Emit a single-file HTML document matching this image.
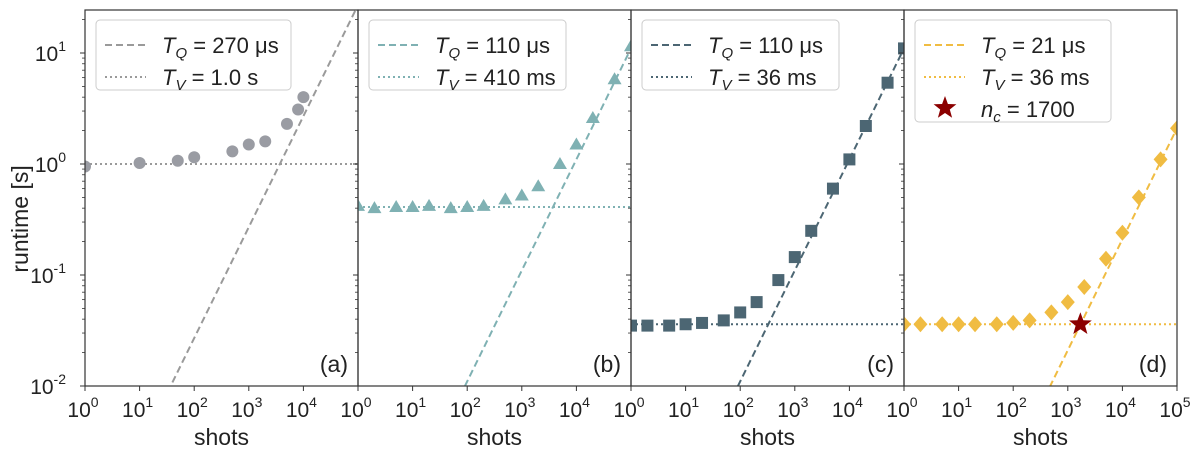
<!DOCTYPE html>
<html><head><meta charset="utf-8">
<style>
html,body{margin:0;background:#fff;overflow:hidden;width:1200px;height:460px;}
svg{display:block;font-family:"Liberation Sans","DejaVu Sans",sans-serif;}
</style></head>
<body>
<svg id="chart" width="1200" height="460" viewBox="0 0 1200 460" xmlns="http://www.w3.org/2000/svg"></svg>
<script>
// ---- data ----
const xTicks = [0,1,2,3,4,5];
const yTicks = [-2,-1,0,1];
const panelLabels = ["(a)","(b)","(c)","(d)"];
const colors = ["#9a9ca3","#7fb1b3","#4c6673","#f0bc42"];
const lineColors = ["#9a9a9a","#7fb1b3","#4c6673","#f0bc42"];
const markers = ["circle","triangle","square","diamond"];
const tqValues = [270e-6,110e-6,110e-6,21e-6];
const tvValues = [1.0,0.41,0.036,0.036];
const tqLabels = ["270 μs","110 μs","110 μs","21 μs"];
const tvLabels = ["1.0 s","410 ms","36 ms","36 ms"];
const shotsA = [1,10,50,100,500,1000,2000,5000,8000,10000];
const runtimeA = [0.95,1.02,1.07,1.15,1.3,1.5,1.6,2.3,3.1,4.0];
const shotsB = [1,2,5,10,20,50,100,200,500,1000,2000,5000,10000,20000,50000,100000];
const runtimeB = [0.42,0.40,0.41,0.41,0.42,0.40,0.41,0.42,0.48,0.52,0.63,1.0,1.5,2.6,5.8,11.5];
const shotsC = [1,2,5,10,20,50,100,200,500,1000,2000,5000,10000,20000,50000,100000];
const runtimeC = [0.035,0.035,0.035,0.036,0.037,0.039,0.046,0.057,0.09,0.145,0.25,0.6,1.1,2.2,5.4,11];
const shotsD = [1,2,5,10,20,50,100,200,500,1000,2000,5000,10000,20000,50000,100000];
const runtimeD = [0.036,0.036,0.036,0.036,0.036,0.036,0.037,0.039,0.046,0.057,0.078,0.14,0.24,0.5,1.1,2.1];
const crossover = [1700,0.036];
const crossoverLabel = "1700";

const shotsAll=[shotsA,shotsB,shotsC,shotsD];
const runAll=[runtimeA,runtimeB,runtimeC,runtimeD];

// ---- layout ----
const NS="http://www.w3.org/2000/svg";
const svg=document.getElementById('chart');
const X0=85, PW=273, TOP=10, BOT=386, DEC=111;
function px(i,v){return X0+i*PW+Math.log10(v)/5*PW;}
function py(v){return BOT-(Math.log10(v)+2)*DEC;}
function mk(tag,attrs,parent){const e=document.createElementNS(NS,tag);for(const k in attrs)e.setAttribute(k,attrs[k]);(parent||svg).appendChild(e);return e;}

const yTop=Math.pow(10,(BOT-TOP)/DEC-2);

for(let i=0;i<4;i++){
  const g=mk('g',{});
  
  
  const clipId='clip'+i;
  const cp=mk('clipPath',{id:clipId},g);
  mk('rect',{x:X0+i*PW,y:TOP,width:PW,height:BOT-TOP},cp);
  const pl=mk('g',{'clip-path':'url(#'+clipId+')'},g);
  const dl=mk('line',{x1:X0+i*PW,x2:X0+(i+1)*PW,y1:py(tvValues[i]),y2:py(tvValues[i]),stroke:lineColors[i],'stroke-width':2,'stroke-dasharray':'2,3'},pl);
  
  
  const n1=1, n2=1e5;
  const ql=mk('line',{x1:px(i,n1),y1:py(tqValues[i]*n1),x2:px(i,n2),y2:py(tqValues[i]*n2),stroke:lineColors[i],'stroke-width':2,'stroke-dasharray':'7,4'},pl);
  
  
  const xs=shotsAll[i], ys=runAll[i];
  for(let j=0;j<xs.length;j++){
    const cx=px(i,xs[j]), cy=py(ys[j]);let m;
    if(markers[i]==='circle') m=mk('circle',{cx:cx,cy:cy,r:6,fill:colors[i]},pl);
    else if(markers[i]==='triangle') m=mk('polygon',{points:`${cx},${cy-7} ${cx-7},${cy+5} ${cx+7},${cy+5}`,fill:colors[i]},pl);
    else if(markers[i]==='square') m=mk('rect',{x:cx-6,y:cy-6,width:12,height:12,fill:colors[i]},pl);
    else m=mk('polygon',{points:`${cx},${cy-8} ${cx+7},${cy} ${cx},${cy+8} ${cx-7},${cy}`,fill:colors[i]},pl);
    
    
  }
  if(i===3){
    const sx=px(3,crossover[0]), sy=py(crossover[1]);
    let pts=[];for(let k=0;k<10;k++){const r=k%2?5:12;const a=-Math.PI/2+k*Math.PI/5;pts.push((sx+r*Math.cos(a)).toFixed(1)+','+(sy+r*Math.sin(a)).toFixed(1));}
    const st=mk('polygon',{points:pts.join(' '),fill:'#8b0000'},pl);
    
    
  }
  const fr=mk('rect',{x:X0+i*PW,y:TOP,width:PW,height:BOT-TOP,fill:'none',stroke:'#333','stroke-width':1.2},g);
  
  
  for(let d=-2;d<=1;d++){
    const y=py(Math.pow(10,d));
    mk('line',{x1:X0+i*PW-5,x2:X0+i*PW,y1:y,y2:y,stroke:'#333','stroke-width':1},g);
    for(let k=2;k<=9;k++){const v=k*Math.pow(10,d);if(v>yTop)break;const yy=py(v);
      mk('line',{x1:X0+i*PW-3,x2:X0+i*PW,y1:yy,y2:yy,stroke:'#333','stroke-width':0.8},g);}
  }
  xTicks.forEach(t=>{
    const x=X0+i*PW+t/5*PW;
    mk('line',{x1:x,x2:x,y1:BOT,y2:BOT+5,stroke:'#333','stroke-width':1},g);
    if(i<3 && t===5) return;
    const tx=mk('text',{x:x-2,y:BOT+31,'font-size':21,fill:'#222','text-anchor':'middle'},g);
    
    
    tx.innerHTML='10<tspan dy="-10" font-size="14">'+t+'</tspan>';
  });
  const xl=mk('text',{x:X0+i*PW+PW/2,y:445,'font-size':23,fill:'#222','text-anchor':'middle'},g);
  
  
  xl.textContent='shots';
  const lab=mk('text',{x:X0+(i+1)*PW-10,y:BOT-14,'font-size':23,fill:'#222','text-anchor':'end'},g);
  
  
  lab.textContent=panelLabels[i];
  const lx=X0+i*PW+11, lw=(i===3?196:(i===0?195:197)), lh=(i===3?102:70);
  const lg=mk('g',{},g);
  
  
  mk('rect',{x:lx,y:20,width:lw,height:lh,rx:4,fill:'#fff',stroke:'#ccc','stroke-width':1},lg);
  mk('line',{x1:lx+9,x2:lx+50,y1:45,y2:45,stroke:lineColors[i],'stroke-width':2,'stroke-dasharray':'7,4'},lg);
  mk('line',{x1:lx+9,x2:lx+50,y1:77,y2:77,stroke:lineColors[i],'stroke-width':2,'stroke-dasharray':'2,3'},lg);
  const t1=mk('text',{x:lx+66,y:53,'font-size':22,fill:'#222'},lg);
  
  
  t1.innerHTML='<tspan font-style="italic">T</tspan><tspan dy="5" font-size="15" font-style="italic">Q</tspan><tspan dy="-5"> = '+tqLabels[i]+'</tspan>';
  const t2=mk('text',{x:lx+66,y:85,'font-size':22,fill:'#222'},lg);
  
  
  t2.innerHTML='<tspan font-style="italic">T</tspan><tspan dy="5" font-size="15" font-style="italic">V</tspan><tspan dy="-5"> = '+tvLabels[i]+'</tspan>';
  if(i===3){
    const sx=lx+30, sy=108;let pts=[];
    for(let k=0;k<10;k++){const r=k%2?5:12;const a=-Math.PI/2+k*Math.PI/5;pts.push((sx+r*Math.cos(a)).toFixed(1)+','+(sy+r*Math.sin(a)).toFixed(1));}
    mk('polygon',{points:pts.join(' '),fill:'#8b0000'},lg);
    const t3=mk('text',{x:lx+66,y:117,'font-size':22,fill:'#222'},lg);
    
    
    t3.innerHTML='<tspan font-style="italic">n</tspan><tspan dy="5" font-size="15" font-style="italic">c</tspan><tspan dy="-5"> = '+crossoverLabel+'</tspan>';
  }
}
yTicks.forEach(d=>{
  const t=mk('text',{x:66,y:py(Math.pow(10,d))+8,'font-size':21,fill:'#222','text-anchor':'end'});
  
  
  t.innerHTML='10<tspan dy="-10" font-size="14">'+d+'</tspan>';
});
const yl=mk('text',{x:0,y:0,'font-size':23,fill:'#222','text-anchor':'middle',transform:'translate(28,'+py(0.32)+') rotate(-90)'});


yl.textContent='runtime [s]';
</script>
</body></html>
